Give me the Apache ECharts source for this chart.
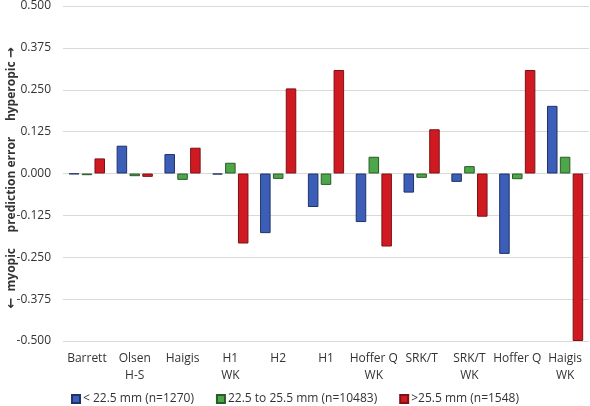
<!DOCTYPE html>
<html>
<head>
<meta charset="utf-8">
<script src="https://cdn.jsdelivr.net/npm/echarts@6/dist/echarts.min.js"></script>
<style>
html,body{margin:0;padding:0;background:#fff;}
#chart{width:590px;height:406px;}
</style>
</head>
<body>
<div id="chart"></div>
<script>
var categories = ['Barrett', 'Olsen\nH-S', 'Haigis', 'H1\nWK', 'H2', 'H1', 'Hoffer Q\nWK', 'SRK/T', 'SRK/T\nWK', 'Hoffer Q', 'Haigis\nWK'];
var seriesNames = ['< 22.5 mm (n=1270)', '22.5 to 25.5 mm (n=10483)', '>25.5 mm (n=1548)'];
var shortEyes = [-0.002, 0.083, 0.058, -0.003, -0.178, -0.100, -0.145, -0.057, -0.025, -0.240, 0.202];
var mediumEyes = [-0.005, -0.008, -0.019, 0.032, -0.016, -0.034, 0.050, -0.013, 0.022, -0.017, 0.050];
var longEyes = [0.045, -0.010, 0.077, -0.209, 0.254, 0.309, -0.218, 0.132, -0.129, 0.309, -0.500];
var yTicks = {min: -0.5, max: 0.5, interval: 0.125};

var fills = ['#3D5EB8', '#4EA64B', '#D01A21'];
var borders = ['#1F3366', '#2B5A28', '#7D1216'];
var values = [shortEyes, mediumEyes, longEyes];

var chart = echarts.init(document.getElementById('chart'));
var font = 'Open Sans';
chart.setOption({
  animation: false,
  textStyle: {fontFamily: font},
  grid: {left: 63, right: 1, top: 5, bottom: 65, containLabel: false},
  legend: {
    data: seriesNames,
    bottom: 0,
    left: 'center',
    itemWidth: 8,
    itemHeight: 8,
    itemGap: 22,
    padding: [0, 0, 1, 0],
    icon: 'rect',
    textStyle: {fontFamily: font, fontSize: 12, color: '#333', padding: [0, 0, 0, -2]}
  },
  xAxis: {
    type: 'category',
    data: categories,
    position: 'bottom',
    axisLine: {show: false},
    axisTick: {show: false},
    axisLabel: {fontFamily: font, fontSize: 12, color: '#333', lineHeight: 17, margin: 9, interval: 0}
  },
  yAxis: {
    type: 'value',
    min: yTicks.min,
    max: yTicks.max,
    interval: yTicks.interval,
    axisLine: {show: false},
    axisTick: {show: false},
    splitLine: {lineStyle: {color: '#d9d9d9', width: 1}},
    axisLabel: {fontFamily: font, fontSize: 12, color: '#333', margin: 12,
      formatter: function (v) { return v.toFixed(3); }}
  },
  graphic: [{
    type: 'text',
    x: 12,
    y: 178,
    rotation: Math.PI / 2,
    style: {
      text: '{a|\u2190}  myopic     prediction error     hyperopic {a|\u2192}',
      font: 'bold 12px "Open Sans"',
      fill: '#333',
      align: 'center',
      verticalAlign: 'middle',
      rich: {
        a: {fontFamily: 'DejaVu Sans', fontWeight: 'bold', fontSize: 13, fill: '#333'}
      }
    }
  }],
  series: seriesNames.map(function (name, i) {
    return {
      name: name,
      type: 'bar',
      data: values[i],
      barWidth: '22%',
      barGap: '22%',
      itemStyle: {color: fills[i], borderColor: borders[i], borderWidth: 1}
    };
  })
});
</script>
</body>
</html>
